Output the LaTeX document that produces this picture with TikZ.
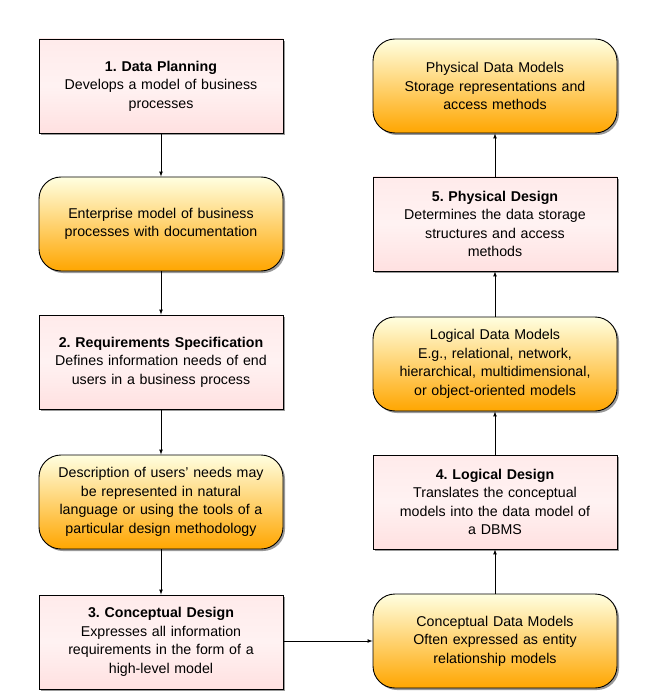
\documentclass[tikz,border=0pt]{standalone}
\usepackage{fontspec}
\setmainfont{Liberation Sans}
\usetikzlibrary{shadows}
\frenchspacing
\begin{document}
\begin{tikzpicture}[x=1pt,y=-1pt,
  base/.style={draw=black,line width=0.9pt,minimum width=244pt,minimum height=94pt,align=center,
    font=\fontsize{14.2}{18.5}\selectfont,text width=236pt,inner sep=2pt,
    drop shadow={shadow xshift=2pt,shadow yshift=-2pt,opacity=0.8}},
  stepbox/.style={base,rectangle,top color=red!8,bottom color=red!12!white,middle color=red!5},
  modelbox/.style={base,rounded corners=22pt,top color=yellow!12,bottom color=orange!70!yellow},
  arr/.style={-latex,line width=0.7pt}]
\useasboundingbox[fill=white] (0,0) rectangle (658,700);
\node[stepbox] (dp) at (161,86) {\textbf{1. Data Planning}\\Develops a model of business\\processes};
\node[modelbox] (em) at (161,224) {Enterprise model of business\\processes with documentation};
\node[stepbox] (rs) at (161,362) {\textbf{2. Requirements Specification}\\Defines information needs of end\\users in a business process};
\node[modelbox] (du) at (161,502) {Description of users' needs may\\be represented in natural\\language or using the tools of a\\particular design methodology};
\node[stepbox] (cd) at (161,642) {\textbf{3. Conceptual Design}\\Expresses all information\\requirements in the form of a\\high-level model};
\node[modelbox] (cm) at (495,641) {Conceptual Data Models\\Often expressed as entity\\relationship models};
\node[stepbox] (ld) at (495,502) {\textbf{4. Logical Design}\\Translates the conceptual\\models into the data model of\\a DBMS};
\node[modelbox] (lm) at (495,364) {Logical Data Models\\E.g., relational, network,\\hierarchical, multidimensional,\\or object-oriented models};
\node[stepbox] (pd) at (495,224) {\textbf{5. Physical Design}\\Determines the data storage\\structures and access\\methods};
\node[modelbox] (pm) at (495,86) {Physical Data Models\\Storage representations and\\access methods};
\draw[arr] (dp) -- (em);
\draw[arr] (em) -- (rs);
\draw[arr] (rs) -- (du);
\draw[arr] (du) -- (cd);
\draw[arr] (cd.east|-cm) -- (cm);
\draw[arr] (cm) -- (ld);
\draw[arr] (ld) -- (lm);
\draw[arr] (lm) -- (pd);
\draw[arr] (pd) -- (pm);
\end{tikzpicture}
\end{document}
